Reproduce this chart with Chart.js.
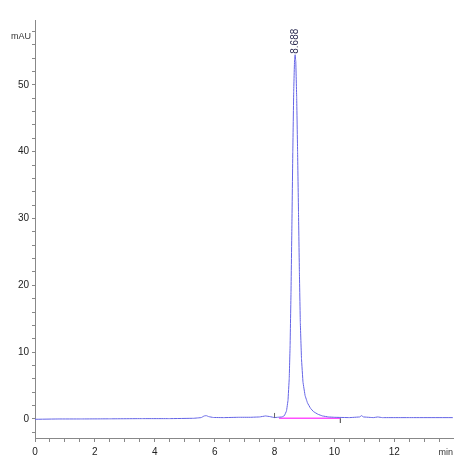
<!DOCTYPE html>
<html>
<head>
<meta charset="utf-8">
<script src="https://cdn.jsdelivr.net/npm/chart.js@4.4.1/dist/chart.umd.min.js"></script>
<style>
  body { margin: 0; background: #fff; }
  #wrap { width: 474px; height: 474px; }
</style>
</head>
<body>
<div id="wrap"><canvas id="chrom" width="474" height="474"></canvas></div>
<script>
const tempos = [0.0, 0.8, 1.5, 2.5, 3.6, 4.5, 5.3, 5.55, 5.65, 5.72, 5.8, 5.95, 6.3, 6.8, 7.2, 7.5, 7.7, 7.85, 8.0, 8.1,
  8.25, 8.33, 8.40, 8.45, 8.49, 8.52, 8.55, 8.58, 8.61, 8.64, 8.668, 8.688, 8.71, 8.74, 8.77, 8.80, 8.83, 8.86, 8.90, 8.95,
  9.02, 9.1, 9.2, 9.3, 9.45, 9.6, 9.8, 10.0, 10.5, 10.85, 10.9, 10.97, 11.3, 11.45, 11.6, 12.5, 13.96];
const sinal = [-0.05, 0.0, 0.0, 0.02, 0.05, 0.05, 0.1, 0.2, 0.45, 0.5, 0.35, 0.22, 0.2, 0.25, 0.25, 0.3, 0.45, 0.35, 0.2, 0.25,
  0.3, 0.5, 1.2, 2.8, 6, 11, 19, 29, 40, 49, 53.8, 54.5, 53.5, 48, 40, 31, 22, 14.5, 9, 5.5,
  3.5, 2.4, 1.6, 1.1, 0.7, 0.45, 0.3, 0.25, 0.2, 0.3, 0.5, 0.3, 0.2, 0.3, 0.2, 0.2, 0.2];

// Linha de base da integração (rosa)
const baseTempos = [8.15, 10.2];
const baseSinal = [0.1, 0.1];

// Marcadores de início/fim do pico
const marcaTempos = [8.0, 8.0, null, 10.2, 10.2];
const marcaSinal = [0.15, 0.9, null, 0.05, -0.6];

// Rótulo do pico
const picoTempo = 8.688;
const picoAltura = 54.5;
const picoRotulo = '8.688';

const fonte = '"Liberation Sans Narrow", "Arial Narrow", "Liberation Sans", sans-serif';

function pares(xs, ys) {
  return xs.map((x, i) => (x === null ? { x: NaN, y: null } : { x: x, y: ys[i] }));
}

// Plugin para textos extras: unidade dos eixos e rótulo do pico
const textos = {
  id: 'textos',
  afterDatasetsDraw(chart) {
    const { ctx, scales: { x, y } } = chart;
    ctx.save();
    ctx.fillStyle = '#333';
    ctx.font = '9px ' + fonte;
    ctx.textAlign = 'right';
    ctx.textBaseline = 'middle';
    ctx.fillText('mAU', 31, 37);
    ctx.fillText('min', 453, 453);

    // rótulo vertical do pico
    const px = x.getPixelForValue(picoTempo);
    const py = y.getPixelForValue(picoAltura);
    ctx.translate(px, py - 1);
    ctx.rotate(-Math.PI / 2);
    ctx.textAlign = 'left';
    ctx.fillStyle = '#2a2a50';
    ctx.font = '10px ' + fonte;
    ctx.fillText(picoRotulo, 0, 0);
    ctx.restore();
  }
};

const ctx = document.getElementById('chrom').getContext('2d');

new Chart(ctx, {
  type: 'line',
  data: {
    datasets: [
      {
        data: pares(tempos, sinal),
        borderColor: 'rgb(100,100,230)',
        borderWidth: 1,
        pointRadius: 0,
        tension: 0.01, // evita o "fast path" que cria degraus no pico
        order: 1
      },
      {
        data: pares(baseTempos, baseSinal),
        borderColor: 'rgb(255,80,255)',
        borderWidth: 1.5,
        pointRadius: 0,
        order: 2
      },
      {
        data: pares(marcaTempos, marcaSinal),
        borderColor: '#666',
        borderWidth: 1,
        pointRadius: 0,
        spanGaps: false,
        order: 0
      }
    ]
  },
  options: {
    responsive: false,
    animation: false,
    layout: { padding: { top: 20, right: 21, left: 0, bottom: 0 } },
    plugins: {
      legend: { display: false },
      tooltip: { enabled: false }
    },
    scales: {
      x: {
        type: 'linear',
        min: 0,
        max: 13.96,
        afterFit(scale) { scale.height = 36; },
        border: { display: true, color: '#888', width: 1 },
        grid: { display: true, drawOnChartArea: false, drawTicks: true, tickLength: 4, tickColor: '#888' },
        ticks: {
          stepSize: 0.5,
          includeBounds: false,
          autoSkip: false,
          maxRotation: 0,
          padding: 4,
          color: '#222',
          font: { family: fonte, size: 10 },
          callback: (v) => (v % 2 === 0 ? String(v) : '')
        }
      },
      y: {
        type: 'linear',
        min: -2.85,
        max: 59.7,
        afterFit(scale) { scale.width = 35; },
        border: { display: true, color: '#888', width: 1 },
        grid: { display: true, drawOnChartArea: false, drawTicks: true, tickLength: 3, tickColor: '#888' },
        ticks: {
          stepSize: 2,
          includeBounds: false,
          autoSkip: false,
          padding: 3,
          color: '#222',
          font: { family: fonte, size: 10 },
          callback: (v) => (v % 10 === 0 ? String(v) : '')
        }
      }
    }
  },
  plugins: [textos]
});
</script>
</body>
</html>
